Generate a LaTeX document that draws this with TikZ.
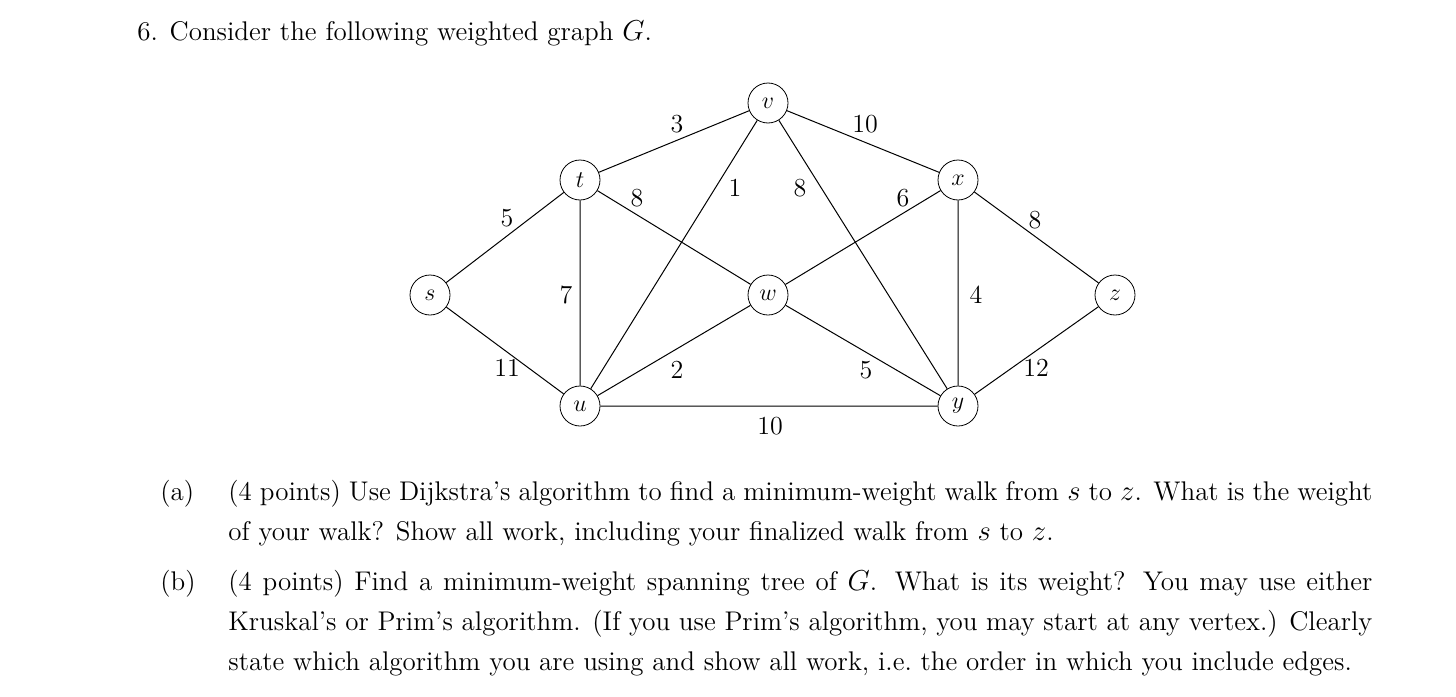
\documentclass[tikz,border=0pt]{standalone}
\begin{document}
\begin{tikzpicture}[x=0.5pt,y=-0.5pt,
  v/.style={circle,draw,minimum size=20pt,inner sep=0pt,font=\fontsize{13}{15}\selectfont},
  e/.style={line width=0.5pt},
  lab/.style={inner sep=0pt,font=\fontsize{13}{15}\selectfont},
  txt/.style={inner sep=0pt,anchor=north west,align=left,font=\fontsize{13.5}{20}\selectfont}]
\useasboundingbox (0,0) rectangle (1456,696);
\node[v] (s) at (430,295) {$s$};
\node[v] (t) at (580,180) {$t$};
\node[v] (v) at (768,103) {$v$};
\node[v] (x) at (958,180) {$x$};
\node[v] (z) at (1115,295) {$z$};
\node[v] (w) at (768,295) {$w$};
\node[v] (u) at (580,406) {$u$};
\node[v] (y) at (958,406) {$y$};
\draw[e] (s)--(t) (s)--(u) (t)--(v) (t)--(w) (t)--(u) (v)--(u) (v)--(y) (v)--(x)
  (x)--(w) (x)--(y) (x)--(z) (y)--(z) (u)--(w) (w)--(y) (u)--(y);
\node[lab] (l1) at (677,124) {3};
\node[lab] (l2) at (865,124) {10};
\node[lab] (l3) at (507,218) {5};
\node[lab] (l4) at (637,198) {8};
\node[lab] (l5) at (735,188) {1};
\node[lab] (l6) at (800,188) {8};
\node[lab] (l7) at (903,198) {6};
\node[lab] (l8) at (1035,220) {8};
\node[lab] (l9) at (566,295) {7};
\node[lab] (l10) at (976,295) {4};
\node[lab] (l11) at (507,368) {11};
\node[lab] (l12) at (677,370) {2};
\node[lab] (l13) at (866,370) {5};
\node[lab] (l14) at (1036,368) {12};
\node[lab] (l15) at (770,426) {10};
\node[txt] (q) at (137,20) {6. Consider the following weighted graph $G$.};
\node[txt] (a) at (160,480) {(a)};
\node[txt,text width=572pt,align=justify] (at) at (228,480) {(4 points) Use Dijkstra's algorithm to find a minimum-weight walk from $s$ to $z$. What is the weight of your walk? Show all work, including your finalized walk from $s$ to $z$.};
\node[txt] (b) at (160,570) {(b)};
\node[txt,text width=572pt,align=justify] (bt) at (228,570) {(4 points) Find a minimum-weight spanning tree of $G$. What is its weight? You may use either Kruskal's or Prim's algorithm. (If you use Prim's algorithm, you may start at any vertex.) Clearly state which algorithm you are using and show all work, i.e.\ the order in which you include edges.};
\end{tikzpicture}
\end{document}
